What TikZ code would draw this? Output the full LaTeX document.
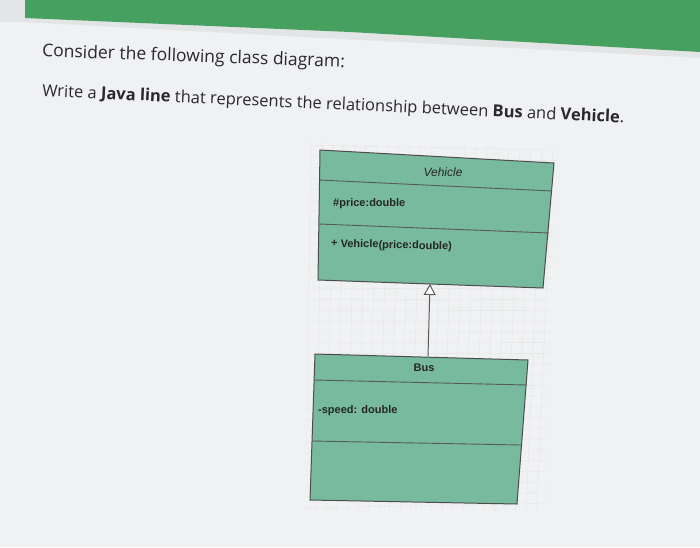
\documentclass[tikz,border=0pt]{standalone}
\usepackage{fontspec}
\setmainfont{Open Sans}
\newfontfamily\uml{Liberation Sans}
\usetikzlibrary{arrows.meta}
\definecolor{band}{RGB}{70,160,95}
\definecolor{umlfill}{RGB}{120,186,158}
\definecolor{bg}{RGB}{226,228,230}
\definecolor{txt}{RGB}{40,40,45}
\tikzset{umlbox/.style={fill=umlfill,draw=black!70,line width=1pt},
 divider/.style={draw=black!65,line width=0.9pt},
 umltext/.style={font=\uml\bfseries\fontsize{11}{12}\selectfont,text=black!85,inner sep=0pt},
 headtext/.style={font=\fontsize{17.5}{20}\selectfont,text=txt,anchor=west,inner sep=0pt}}
\begin{document}
\begin{tikzpicture}[x=1pt,y=-1pt]
\useasboundingbox (0,0) rectangle (700,547);
\fill[bg] (0,0) rectangle (700,547);
\fill[band] (25,0) -- (700,0) -- (700,52) -- (350,32) -- (25,18) -- cycle;
\fill[white!50!bg] (20,22) -- (700,58) -- (700,547) -- (0,547) -- (0,22) -- cycle;
\node[headtext,rotate=-2] (t1) at (42,52) {Consider the following class diagram:};
\node[headtext,font=\fontsize{16.5}{20}\selectfont,rotate=-2.6] (t2) at (42,92) {Write a \textbf{Java line} that represents the relationship between \textbf{Bus} and \textbf{Vehicle}.};
% grid
\begin{scope}
\clip (310,143) -- (556,150) -- (545,512) -- (306,510) -- cycle;
\foreach \i in {0,...,25} {\draw[black!10] (300+\i*11,140) -- (295+\i*10.5,515);}
\foreach \j in {0,...,34} {\draw[black!10] (300,145+\j*11) -- (560,150+\j*10.7);}
\end{scope}
% Vehicle
\coordinate (v1) at (320,150); \coordinate (v2) at (554,163);
\coordinate (v3) at (543,288); \coordinate (v4) at (318,280);
\draw[umlbox] (v1) -- (v2) -- (v3) -- (v4) -- cycle;
\draw[divider] (319,180) -- (552,191);
\draw[divider] (319,224) -- (549,233);
\node[umltext,font=\uml\itshape\fontsize{12}{13}\selectfont] (vn) at (443,172) {Vehicle};
\node[umltext,anchor=west] (va) at (333,204) {\#price:double};
\node[umltext,anchor=west,rotate=-1.5] (vm) at (331,244) {+ Vehicle(price:double)};
% Bus
\coordinate (b1) at (315,354); \coordinate (b2) at (528,360);
\coordinate (b3) at (517,504); \coordinate (b4) at (310,500);
\draw[umlbox] (b1) -- (b2) -- (b3) -- (b4) -- cycle;
\draw[divider] (314,380) -- (527,385);
\draw[divider] (312,441) -- (522,445);
\node[umltext] (bn) at (424,368) {Bus};
\node[umltext,anchor=west] (ba) at (318,411) {-speed: double};
\coordinate (bt) at (428,356); \coordinate (vb) at (430,284);
\draw[black!65,line width=1pt,-{Triangle[open,length=11pt,width=12pt,fill=white]}] (bt) -- (vb);
\end{tikzpicture}
\end{document}
